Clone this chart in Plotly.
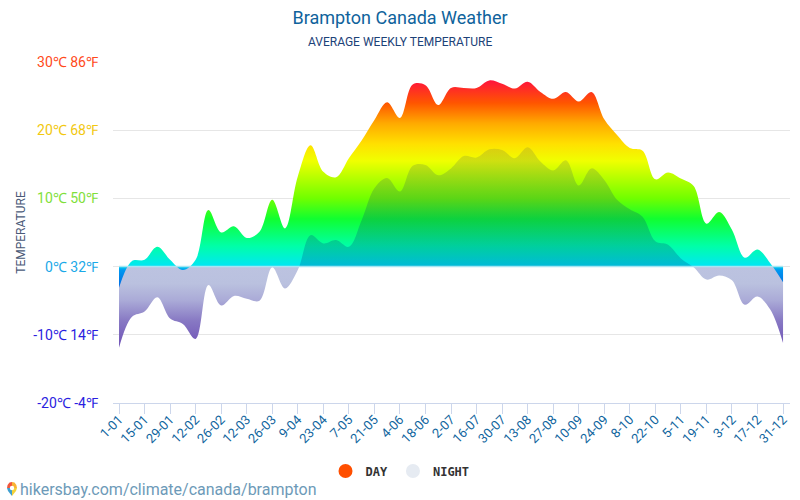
import plotly.graph_objects as go

week_index = list(range(53))
tick_weeks = list(range(0, 53, 2))
tick_dates = ["1-01","15-01","29-01","12-02","26-02","12-03","26-03","9-04","23-04","7-05","21-05","4-06","18-06",
              "2-07","16-07","30-07","13-08","27-08","10-09","24-09","8-10","22-10","5-11","19-11","3-12","17-12","31-12"]
day_temp = [-3.1,0.8,1.0,2.9,1.0,-0.5,1.0,8.3,5.0,5.9,4.2,5.1,9.8,5.6,13.2,17.8,13.9,13.1,15.9,18.5,21.5,24.1,21.8,
            26.7,26.6,23.7,26.2,26.2,26.2,27.3,26.8,26.1,27.1,25.6,24.6,25.6,24.2,25.6,21.6,19.3,17.4,17.0,12.8,
            13.8,12.9,11.8,6.3,8.0,5.4,1.3,2.5,0.5,-2.3]
night_temp = [-11.9,-7.4,-6.6,-4.5,-7.6,-8.4,-10.6,-2.7,-5.7,-4.3,-4.7,-5.0,-0.1,-3.2,-0.5,4.6,3.4,3.9,2.9,6.8,11.5,
              13.0,11.0,14.8,14.9,13.4,14.4,16.2,16.0,17.2,17.1,15.9,17.5,15.4,14.1,15.6,11.9,14.4,12.7,9.8,8.4,7.3,
              3.7,3.2,1.2,-0.1,-1.9,-1.3,-2.0,-5.6,-4.4,-6.3,-11.2]
baseline = [0] * 53
y_ticks = [30, 20, 10, 0, -10, -20]
y_labels = ["30℃ 86℉", "20℃ 68℉", "10℃ 50℉", "0℃ 32℉", "-10℃ 14℉", "-20℃ -4℉"]
y_colors = ["#ff4a1a", "#f2c80f", "#7fe03a", "#1aa9e8", "#2a1ee0", "#2a1ee0"]

W, H = 800, 500
L, R, T, B = 113, 790, 62, 403


def scale(stops):
    lo, hi = stops[0][0], stops[-1][0]
    return [[(v - lo) / (hi - lo), c] for v, c in stops]


def grad(stops):
    return dict(type="vertical", start=stops[0][0], stop=stops[-1][0], colorscale=scale(stops))


DAY_STOPS = [(-3.5, "#0060e0"), (-0.5, "#0098f0"), (0.2, "#00e8f0"), (3, "#00ffa8"), (7, "#10ff30"), (10, "#70ff00"),
             (15.5, "#f0ff00"), (18, "#ffe000"), (21, "#ffaa00"), (24, "#ff5500"), (27.5, "#ff1040")]
NIGHT_LOW = [(-12, "rgba(110,80,182,1)"), (-8, "rgba(135,120,195,1)"), (-5, "rgba(170,170,215,1)"),
             (-2.5, "rgba(186,193,223,1)"), (-0.001, "rgba(188,195,224,1)"), (0, "rgba(188,195,224,0)"),
             (20, "rgba(188,195,224,0)")]
NIGHT_HIGH = [(-12, "rgba(0,30,120,0)"), (-0.001, "rgba(0,30,120,0)"), (0, "rgba(0,30,120,0.22)"),
              (8, "rgba(0,30,120,0.2)"), (18, "rgba(0,30,120,0.12)")]

fig = go.Figure()
common = dict(x=week_index, mode="lines", fill="tozeroy", line=dict(shape="spline", width=0, color="rgba(0,0,0,0)"),
              showlegend=False, hoverinfo="skip")
fig.add_trace(go.Scatter(y=night_temp, fillgradient=grad(NIGHT_LOW), **common))
fig.add_trace(go.Scatter(y=day_temp, fillgradient=grad(DAY_STOPS), **common))
fig.add_trace(go.Scatter(y=night_temp, fillgradient=grad(NIGHT_HIGH), **common))
fig.add_trace(go.Scatter(x=week_index, y=baseline, mode="lines", line=dict(color="#a6e6f2", width=1.5),
                         showlegend=False, hoverinfo="skip"))
fig.add_trace(go.Scatter(x=[None], y=[None], mode="markers", name="<b>DAY</b>",
                         marker=dict(color="#ff4f00", size=14, symbol="circle")))
fig.add_trace(go.Scatter(x=[None], y=[None], mode="markers", name="<b>NIGHT</b>",
                         marker=dict(color="#e6ebf2", size=14, symbol="circle")))


def px(x):
    return (x - L) / (R - L)


def py(y):
    return (B - y) / (B - T)


def path(points):
    return "M" + " L".join(f"{px(a):.4f},{py(b):.4f}" for a, b in points) + " Z"


pin = [
    ([(12, 488), (7, 488), (7.6, 485), (9.5, 482.6), (12, 482)], "#f0563c"),
    ([(12, 488), (12, 482), (14.5, 482.6), (16.4, 485), (17, 488)], "#f9b233"),
    ([(12, 488), (17, 488), (16, 491), (12, 496)], "#f3d23a"),
    ([(12, 488), (12, 496), (8, 491), (7, 488)], "#3f9fd0"),
]
shapes = [dict(type="path", xref="paper", yref="paper", path=path(p), fillcolor=c, line=dict(width=0), layer="above")
          for p, c in pin]
shapes.append(dict(type="circle", xref="paper", yref="paper", x0=px(9.8), x1=px(14.2), y0=py(490.2), y1=py(485.8),
                   fillcolor="white", line=dict(width=0), layer="above"))

fig.update_layout(
    width=W, height=H, paper_bgcolor="white", plot_bgcolor="white",
    margin=dict(l=L, r=W - R, t=T, b=H - B, autoexpand=False),
    font=dict(family="Roboto, sans-serif"),
    title=dict(text="Brampton Canada Weather", x=0.5, xanchor="center", xref="container", yref="container",
               y=1 - 18 / H, yanchor="middle", font=dict(size=18, color="#0f639c", family="Roboto")),
    xaxis=dict(range=[(L - 119) / 12.77, (R - 119) / 12.77], tickmode="array", tickvals=tick_weeks, ticktext=tick_dates,
               tickangle=-45, tickfont=dict(size=13, color="#10659e", family="Roboto"), ticks="outside", ticklen=10,
               tickcolor="#ccd6eb", tickwidth=1, showline=True, linecolor="#ccd6eb", linewidth=1, showgrid=False,
               zeroline=False, ticklabelstandoff=-7),
    yaxis=dict(range=[-20, 30], tickmode="array", tickvals=y_ticks,
               ticktext=[f'<span style="color:{c}">{t}</span>' for t, c in zip(y_labels, y_colors)],
               tickfont=dict(size=14, family="Roboto"), showgrid=True, gridcolor="#e6e6e6", gridwidth=1, zeroline=False,
               ticks="", ticklabelstandoff=14, showline=False,
               title=dict(text="TEMPERATURE", font=dict(size=12, color="#4a5a78", family="Roboto"), standoff=4)),
    legend=dict(orientation="h", x=(400 - L) / (R - L), xanchor="center", y=py(471), yanchor="middle",
                font=dict(size=12, color="#333333", family="DejaVu Sans Mono"), itemclick=False, itemdoubleclick=False,
                bgcolor="rgba(0,0,0,0)"),
    shapes=shapes,
    annotations=[
        dict(text="AVERAGE WEEKLY TEMPERATURE", xref="paper", yref="paper", x=px(400), y=py(42), showarrow=False,
             xanchor="center", yanchor="middle", font=dict(size=12, color="#1c4278", family="Roboto")),
        dict(text="hikersbay.com/climate/canada/brampton", xref="paper", yref="paper", x=px(18), y=py(489.5),
             showarrow=False, xanchor="left", yanchor="middle", font=dict(size=16, color="#6d9ab8", family="Roboto")),
    ],
)
fig.write_html("out.html", config=dict(displayModeBar=False),
               post_script="document.body.style.margin='0';document.documentElement.style.overflow='hidden';")
